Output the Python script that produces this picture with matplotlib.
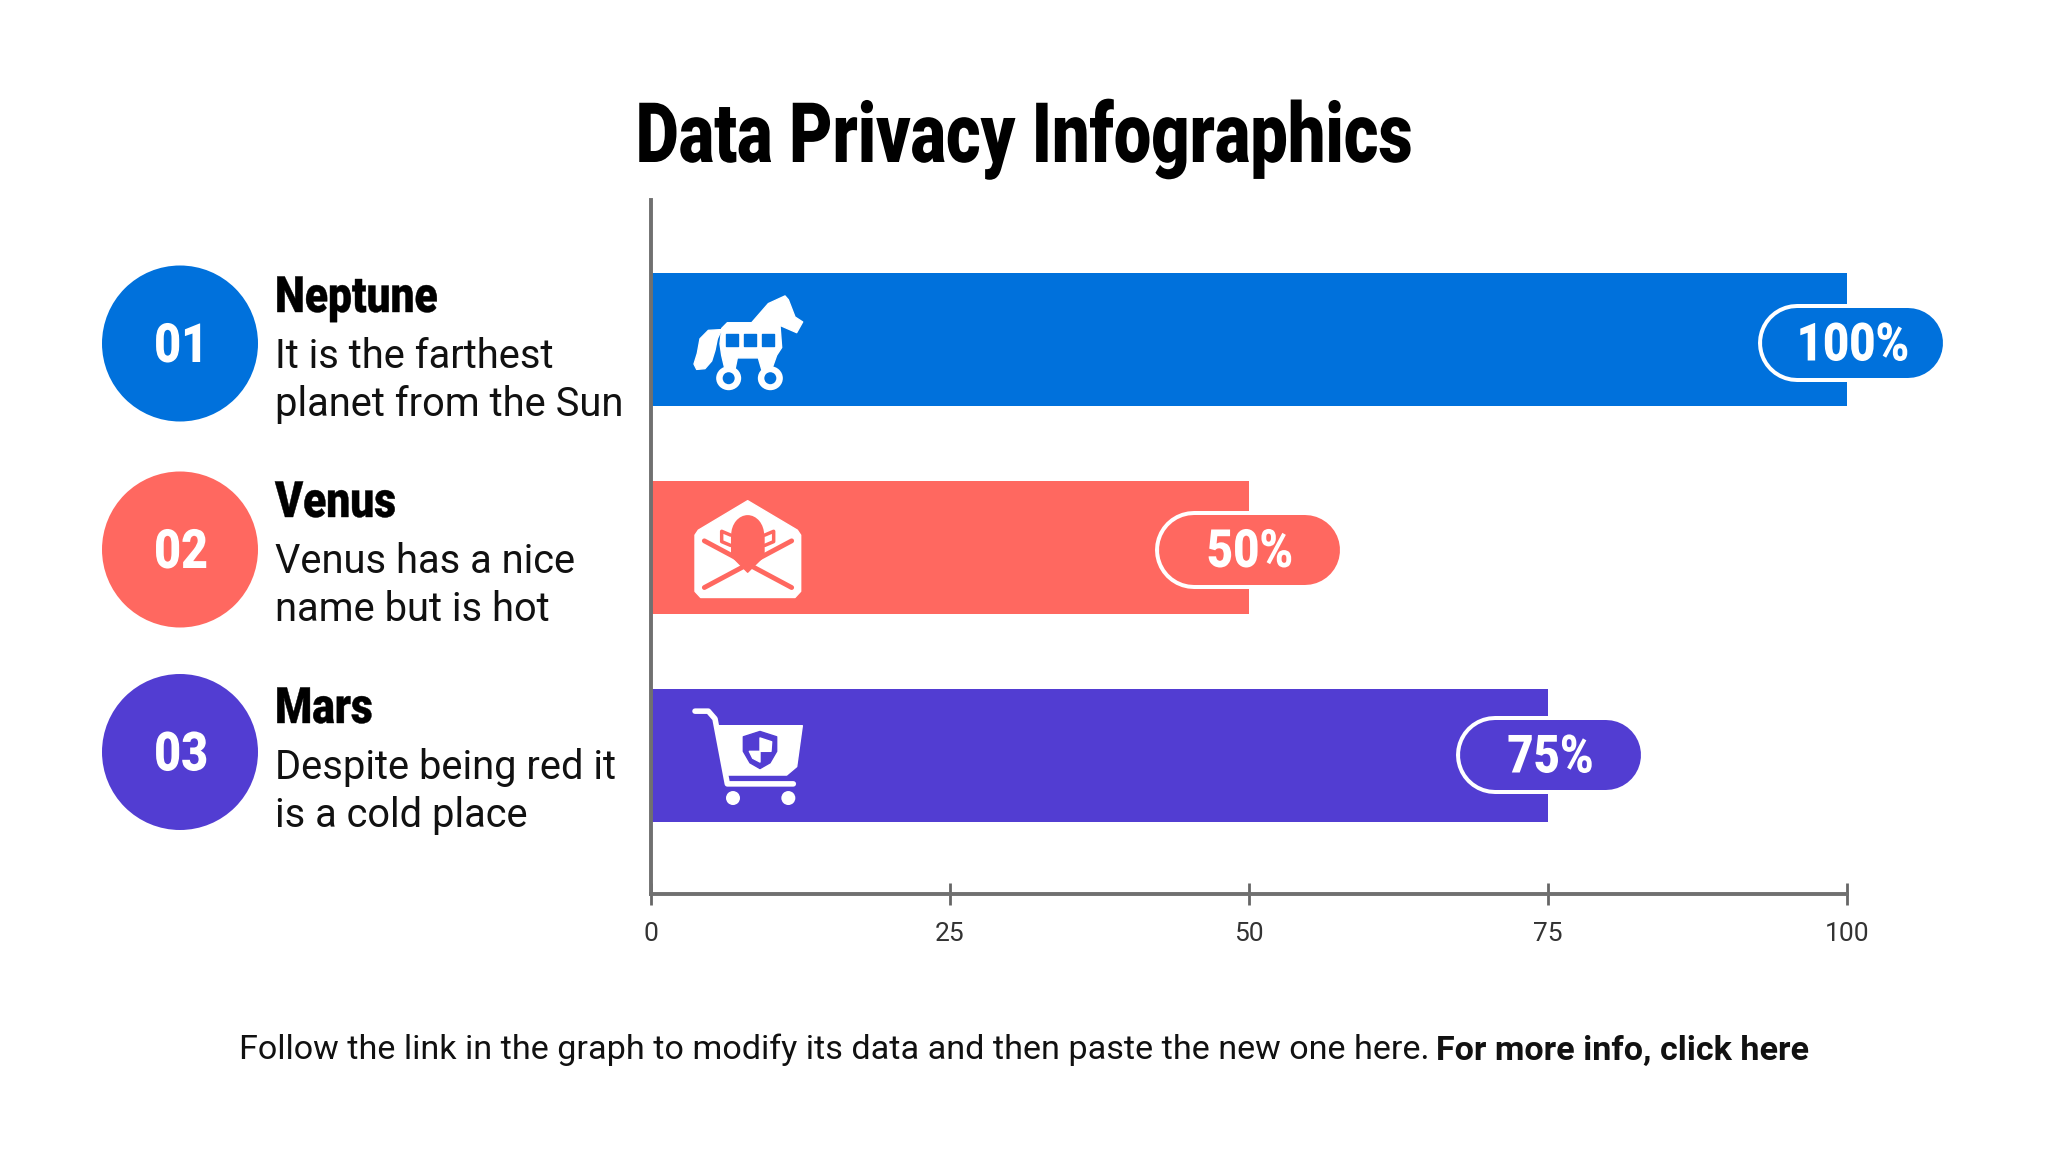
import matplotlib
matplotlib.use("Agg")
import matplotlib.pyplot as plt
from matplotlib.patches import Circle, Ellipse, Polygon
from matplotlib.patheffects import AbstractPathEffect
from matplotlib.transforms import Affine2D

# Data
names = ["Neptune", "Venus", "Mars"]
numbers = ["01", "02", "03"]
descriptions = [
    "It is the farthest\nplanet from the Sun",
    "Venus has a nice\nname but is hot",
    "Despite being red it\nis a cold place",
]
values = [100, 50, 75]
value_labels = ["100%", "50%", "75%"]
colors = ["#0071DC", "#FF6860", "#523DD2"]
x_ticks = [0, 25, 50, 75, 100]

BODY = ["Roboto", "DejaVu Sans"]


class Squeeze(AbstractPathEffect):
    # no condensed font is installed, so narrow the glyphs of a real text around its anchor
    def __init__(self, sx, anchor_x, stroke=0):
        super().__init__()
        self.sx = sx
        self.anchor_x = anchor_x
        self.stroke = stroke

    def draw_path(self, renderer, gc, tpath, affine, rgbFace=None):
        squeezed = affine + Affine2D().translate(-self.anchor_x, 0).scale(self.sx, 1).translate(self.anchor_x, 0)
        gc0 = renderer.new_gc()
        gc0.copy_properties(gc)
        gc0.set_linewidth(self.stroke)
        gc0.set_foreground(rgbFace)
        renderer.draw_path(gc0, tpath, squeezed, rgbFace)
        gc0.restore()


fig = plt.figure(figsize=(20.48, 11.52), dpi=100, facecolor="white")

# Bar chart, placed on the slide in pixels
ax_left, ax_right, ax_top, ax_bottom = 651, 1847, 200, 894
ax = fig.add_axes([ax_left / 2048, 1 - ax_bottom / 1152,
                   (ax_right - ax_left) / 2048, (ax_bottom - ax_top) / 1152])
ax.barh(range(3), values, height=0.64, color=colors, zorder=2)
ax.set_xlim(0, 100)
ax.set_ylim(2 + (894 - 755.5) / 207.5, -(339.5 - 200) / 207.5)
ax.set_yticks([])
ax.set_xticks(x_ticks)
ax.tick_params(axis="x", direction="inout", length=16.5, width=2, color="#666666",
               labelsize=19, labelcolor="#333333", pad=12)
for label in ax.get_xticklabels():
    label.set_family(BODY)
for side in ["top", "right"]:
    ax.spines[side].set_visible(False)
for side in ["left", "bottom"]:
    ax.spines[side].set_color("#707070")
    ax.spines[side].set_linewidth(2.8)
ax.patch.set_alpha(0)

# Overlay in slide pixels for the circles, pills, icons and text
ov = fig.add_axes([0, 0, 1, 1], zorder=5)
ov.set_xlim(0, 2048)
ov.set_ylim(1152, 0)
ov.axis("off")

circle_y = [343.5, 549.5, 752]
pill_y = [343, 549.5, 755]
pill_shift = [0, -5, -3.5]
text_y = [0, 205, 411]


def narrow_text(x, y, s, size, sx, color="black", ha="left", va="baseline", stroke=0.3):
    t = ov.text(x, y, s, color=color, fontsize=size, fontweight="black", family=BODY, ha=ha, va=va)
    t.set_path_effects([Squeeze(sx, x, stroke)])
    return t


def pill(x0, x1, y, height, color):
    # a thick round-capped line gives true half circle ends; 1 px = 0.72 pt here
    r = height / 2
    ov.plot([x0 + r, x1 - r], [y, y], color=color, lw=height * 0.72, solid_capstyle="round")


for i in range(3):
    c = colors[i]
    ov.add_patch(Circle((180, circle_y[i]), 78, color=c, lw=0))
    narrow_text(181, circle_y[i] + 4, numbers[i], 39, 0.86, "white", "center", "center", 0)
    narrow_text(275, 312 + text_y[i], names[i], 36, 0.85)
    first, second = descriptions[i].split("\n")
    ov.text(275, 368 + text_y[i], first, color="#111111", fontsize=28.7, family=BODY,
            ha="left", va="baseline")
    ov.text(275, 416 + text_y[i], second, color="#111111", fontsize=28.7, family=BODY,
            ha="left", va="baseline")

    # value pill sits on the end of the bar
    px = ax_left + values[i] * (ax_right - ax_left) / 100 + pill_shift[i]
    y = pill_y[i]
    pill(px - 89, px + 96, y, 78, "white")
    pill(px - 85, px + 96, y, 70, c)
    narrow_text(px + 6, y + 3, value_labels[i], 38, 0.86, "white", "center", "center", 0)


def z(points):
    return [(640 + a / 3, 250 + b / 2.613) for a, b in points]


def zpoly(points, color):
    ov.add_patch(Polygon(z(points), closed=True, fc=color, ec=color, lw=1, joinstyle="round"))


def zline(points, color, width):
    xy = z(points)
    ov.plot([p[0] for p in xy], [p[1] for p in xy], color=color, lw=width,
            solid_capstyle="round", solid_joinstyle="round")


# horse
zpoly([(245, 205), (262, 190), (335, 190), (385, 140), (435, 120), (445, 130), (465, 175),
       (488, 188), (470, 216), (420, 197), (425, 255), (410, 275), (395, 312), (365, 312),
       (355, 282), (292, 282), (285, 312), (255, 312), (245, 275), (240, 245)], "white")
zpoly([(245, 208), (205, 210), (180, 232), (172, 270), (162, 298), (170, 312), (195, 310),
       (215, 290), (225, 262), (232, 232)], "white")
for wx in [258, 313, 367]:
    zpoly([(wx, 220), (wx + 36, 220), (wx + 36, 252), (wx, 252)], colors[0])
for wx in [266, 391]:
    cx, cy = z([(wx, 335)])[0]
    ov.add_patch(Ellipse((cx, cy), 25, 24, fc="white", ec="none"))
    ov.add_patch(Ellipse((cx, cy), 12, 12, fc=colors[0], ec="none"))

# envelope
zpoly([(165, 745), (175, 732), (323, 655), (472, 732), (482, 745), (482, 892), (465, 908),
       (182, 908), (165, 892)], "white")
cx, cy = z([(323, 745)])[0]
ov.add_patch(Ellipse((cx, cy), 33, 40, fc=colors[1], ec="none"))
zpoly([(275, 745), (275, 800), (323, 842), (372, 800), (372, 745)], colors[1])
zline([(193, 760), (455, 882)], colors[1], 3.5)
zline([(455, 760), (193, 882)], colors[1], 3.5)
zline([(272, 745), (245, 735), (245, 762), (272, 772)], colors[1], 2.5)
zline([(374, 745), (401, 735), (401, 762), (374, 772)], colors[1], 2.5)

# cart
zline([(165, 1205), (205, 1205), (225, 1225), (262, 1395), (460, 1395)], "white", 4)
zpoly([(228, 1243), (487, 1243), (470, 1350), (440, 1372), (255, 1372)], "white")
for wx in [279, 445]:
    cx, cy = z([(wx, 1432)])[0]
    ov.add_patch(Ellipse((cx, cy), 14, 14, fc="white", ec="none"))
zpoly([(310, 1272), (360, 1258), (410, 1272), (410, 1310), (390, 1340), (360, 1355),
       (330, 1340), (310, 1310)], colors[2])
zpoly([(360, 1275), (395, 1285), (393, 1310), (360, 1310)], "white")
zpoly([(328, 1310), (360, 1310), (360, 1338), (338, 1328)], "white")

# Title and footer
narrow_text(1024.5, 162, "Data Privacy Infographics", 60, 0.80, ha="center", stroke=0)

foot = ov.text(239, 1059.5, "Follow the link in the graph to modify its data and then paste the new one here.",
               color="#111111", fontsize=24.56, family=BODY, ha="left", va="baseline")
fig.canvas.draw()
foot_end = ov.transData.inverted().transform((foot.get_window_extent().x1, 0))[0]
ov.text(foot_end + 6, 1059.5, "For more info, click here", color="#111111", fontsize=24.56,
        fontweight="bold", family=BODY, ha="left", va="baseline")

fig.savefig("out.png", dpi=100)
